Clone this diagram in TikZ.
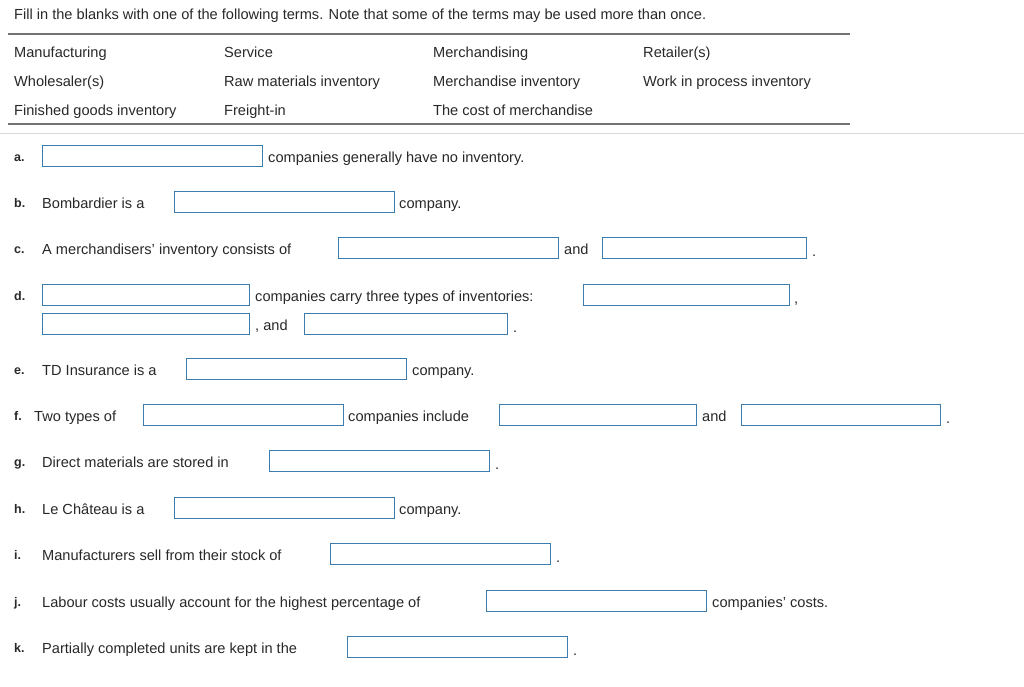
\documentclass[tikz,border=0pt]{standalone}
\usepackage{fontspec}
\setmainfont{Liberation Sans}
\definecolor{txt}{RGB}{40,40,40}
\definecolor{boxc}{RGB}{60,125,175}
\begin{document}
\begin{tikzpicture}[x=1pt,y=-1pt,
  t/.style={anchor=base west,inner sep=0pt,text=txt,font=\fontsize{14.6}{16}\selectfont,yshift=-5pt},
  lbl/.style={anchor=base west,inner sep=0pt,text=txt,font=\fontsize{12.5}{15}\selectfont\bfseries,yshift=-4.5pt},
  bb/.style={draw=boxc,line width=0.8pt,inner sep=0pt,minimum height=21pt,fill=white}]
\useasboundingbox (0,0) rectangle (1024,686);
\newcommand\blk[4]{\node[bb,minimum width={#3-#2}] (#1) at ({(#2+#3)/2},#4) {};}
\node[t] (ins) at (14,14) {Fill in the blanks with one of the following terms. Note that some of the terms may be used more than once.};
\draw[gray!90!black,line width=2pt] (8,34) -- (850,34);
\draw[gray!90!black,line width=2pt] (8,124) -- (850,124);
\draw[gray!30,line width=1pt] (0,133) -- (1024,133);
\node[t] (w1) at (14,52) {Manufacturing};
\node[t] (w2) at (224,52) {Service};
\node[t] (w3) at (433,52) {Merchandising};
\node[t] (w4) at (643,52) {Retailer(s)};
\node[t] (w5) at (14,81) {Wholesaler(s)};
\node[t] (w6) at (224,81) {Raw materials inventory};
\node[t] (w7) at (433,81) {Merchandise inventory};
\node[t] (w8) at (643,81) {Work in process inventory};
\node[t] (w9) at (14,110) {Finished goods inventory};
\node[t] (w10) at (224,110) {Freight-in};
\node[t] (w11) at (433,110) {The cost of merchandise};
% a
\node[lbl] (la) at (14,157) {a.};
\blk{ba}{42}{262}{156}
\node[t] (ta) at (268,157) {companies generally have no inventory.};
% b
\node[lbl] (lb) at (14,203) {b.};
\node[t] (tb) at (42,203) {Bombardier is a};
\blk{bb1}{174}{394}{202}
\node[t] (tb2) at (399,203) {company.};
% c
\node[lbl] (lc) at (14,249) {c.};
\node[t] (tc) at (42,249) {A merchandisers' inventory consists of};
\blk{bc1}{338}{558}{248}
\node[t] (tc2) at (564,249) {and};
\blk{bc2}{602}{806}{248}
\node[t] (tc3) at (812,251) {.};
% d
\node[lbl] (ld) at (14,296) {d.};
\blk{bd1}{42}{249}{295}
\node[t] (td) at (255,296) {companies carry three types of inventories:};
\blk{bd2}{583}{789}{295}
\node[t] (td2) at (794,298) {,};
\blk{bd3}{42}{249}{324}
\node[t] (td3) at (255,325) {, and};
\blk{bd4}{304}{507}{324}
\node[t] (td4) at (513,327) {.};
% e
\node[lbl] (le) at (14,370) {e.};
\node[t] (te) at (42,370) {TD Insurance is a};
\blk{be}{186}{406}{369}
\node[t] (te2) at (412,370) {company.};
% f
\node[lbl] (lf) at (14,416) {f.};
\node[t] (tf) at (34,416) {Two types of};
\blk{bf1}{143}{343}{415}
\node[t] (tf2) at (348,416) {companies include};
\blk{bf2}{499}{696}{415}
\node[t] (tf3) at (702,416) {and};
\blk{bf3}{741}{940}{415}
\node[t] (tf4) at (946,418) {.};
% g
\node[lbl] (lg) at (14,462) {g.};
\node[t] (tg) at (42,462) {Direct materials are stored in};
\blk{bg}{269}{489}{461}
\node[t] (tg2) at (495,464) {.};
% h
\node[lbl] (lh) at (14,509) {h.};
\node[t] (th) at (42,509) {Le Château is a};
\blk{bh}{174}{394}{508}
\node[t] (th2) at (399,509) {company.};
% i
\node[lbl] (li) at (14,555) {i.};
\node[t] (ti) at (42,555) {Manufacturers sell from their stock of};
\blk{bi}{330}{550}{554}
\node[t] (ti2) at (556,557) {.};
% j
\node[lbl] (lj) at (14,602) {j.};
\node[t] (tj) at (42,602) {Labour costs usually account for the highest percentage of};
\blk{bj}{486}{706}{601}
\node[t] (tj2) at (712,602) {companies' costs.};
% k
\node[lbl] (lk) at (14,648) {k.};
\node[t] (tk) at (42,648) {Partially completed units are kept in the};
\blk{bk}{347}{567}{647}
\node[t] (tk2) at (573,650) {.};
\end{tikzpicture}
\end{document}
